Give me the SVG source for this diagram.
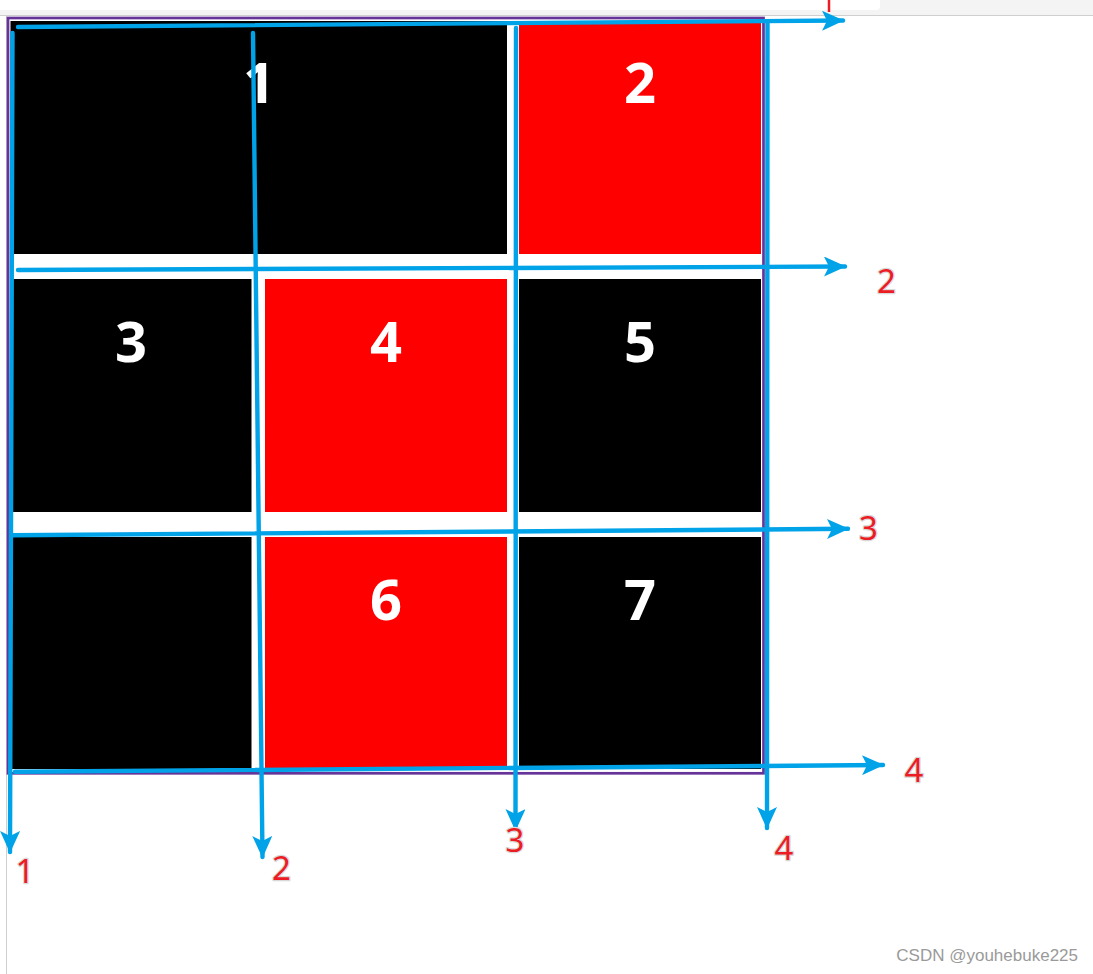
<svg xmlns="http://www.w3.org/2000/svg" width="1093" height="974" viewBox="0 0 1093 974">
  <style>
    .cellnum { font-family: "Noto Sans", "Open Sans", "DejaVu Sans", sans-serif; font-weight: 700; font-size: 56px; fill: #ffffff; text-anchor: middle; }
    .lbl { font-family: "Noto Sans", "Open Sans", "DejaVu Sans", sans-serif; font-size: 33px; fill: #ed1c24; text-anchor: middle; stroke: #d9d9d9; stroke-width: 2.5px; paint-order: stroke; stroke-linejoin: round; }
    .arrow { stroke: #00a2e8; stroke-width: 4.4; fill: none; stroke-linecap: round; marker-end: url(#ah); }
    .black { fill: #000000; }
    .red { fill: #ff0000; }
    .wm { font-family: "Liberation Sans", Arial, sans-serif; font-size: 17px; fill: #9a9a9a; text-anchor: end; }
  </style>
  <defs>
    <marker id="ah" viewBox="0 0 22 20" refX="21" refY="10" markerWidth="22" markerHeight="20" markerUnits="userSpaceOnUse" orient="auto">
      <path d="M0,0 L22,10 L0,20 L5,10 z" fill="#00a2e8"/>
    </marker>
  </defs>

  <!-- page background -->
  <rect x="0" y="0" width="1093" height="974" fill="#ffffff"/>
  <!-- browser toolbar remnant -->
  <g id="toolbar">
    <rect x="0" y="0" width="1093" height="16" fill="#f4f4f4"/>
    <rect x="-10" y="-10" width="890" height="20" rx="4" fill="#ffffff"/>
    <line x1="0" y1="15.5" x2="1093" y2="15.5" stroke="#cfcfcf" stroke-width="1.2"/>
    <line x1="829" y1="0" x2="829" y2="12" stroke="#ed1c24" stroke-width="2.5"/>
    <line x1="6.5" y1="16" x2="6.5" y2="974" stroke="#d0d0d0" stroke-width="1"/>
  </g>

  <!-- grid container -->
  <g id="container">
    <rect x="8" y="18" width="755.5" height="755.3" fill="#ffffff" stroke="#663399" stroke-width="2.7"/>
  </g>

  <g id="cell1"><rect class="black" x="10.5" y="21" width="496.5" height="233"/><text class="cellnum" x="259" y="103">1</text></g>
  <g id="cell2"><rect class="red" x="519" y="21" width="242" height="233"/><text class="cellnum" x="640" y="103">2</text></g>
  <g id="cell3"><rect class="black" x="10.5" y="279" width="241" height="233"/><text class="cellnum" x="131" y="362">3</text></g>
  <g id="cell4"><rect class="red" x="265" y="279" width="242" height="233"/><text class="cellnum" x="386" y="362">4</text></g>
  <g id="cell5"><rect class="black" x="519" y="279" width="242" height="233"/><text class="cellnum" x="640" y="362">5</text></g>
  <g id="cell-empty"><rect class="black" x="10.5" y="537" width="241" height="232"/></g>
  <g id="cell6"><rect class="red" x="265" y="537" width="242" height="232"/><text class="cellnum" x="386" y="620">6</text></g>
  <g id="cell7"><rect class="black" x="519" y="537" width="242" height="232"/><text class="cellnum" x="640" y="620">7</text></g>

  <!-- grid line annotations -->
  <g id="connectors">
    <line class="arrow" x1="18" y1="27" x2="843" y2="20.5"/>
    <line class="arrow" x1="18" y1="270" x2="845" y2="266.5"/>
    <line class="arrow" x1="12" y1="535.3" x2="848" y2="528.8"/>
    <line class="arrow" x1="15" y1="771.8" x2="883" y2="765"/>
    <line class="arrow" x1="12.5" y1="33" x2="10" y2="852"/>
    <line class="arrow" x1="253" y1="33" x2="262.5" y2="857"/>
    <line class="arrow" x1="516" y1="28" x2="515.5" y2="830"/>
    <line class="arrow" x1="767.5" y1="23" x2="767" y2="828"/>
  </g>

  <g id="labels">
    <text class="lbl" x="25" y="883">1</text>
    <text class="lbl" x="281.5" y="880">2</text>
    <text class="lbl" x="515" y="852">3</text>
    <text class="lbl" x="784" y="860">4</text>
    <text class="lbl" x="886.5" y="293">2</text>
    <text class="lbl" x="868.5" y="540">3</text>
    <text class="lbl" x="914" y="782">4</text>
  </g>

  <text class="wm" x="1078" y="961">CSDN @youhebuke225</text>
</svg>
